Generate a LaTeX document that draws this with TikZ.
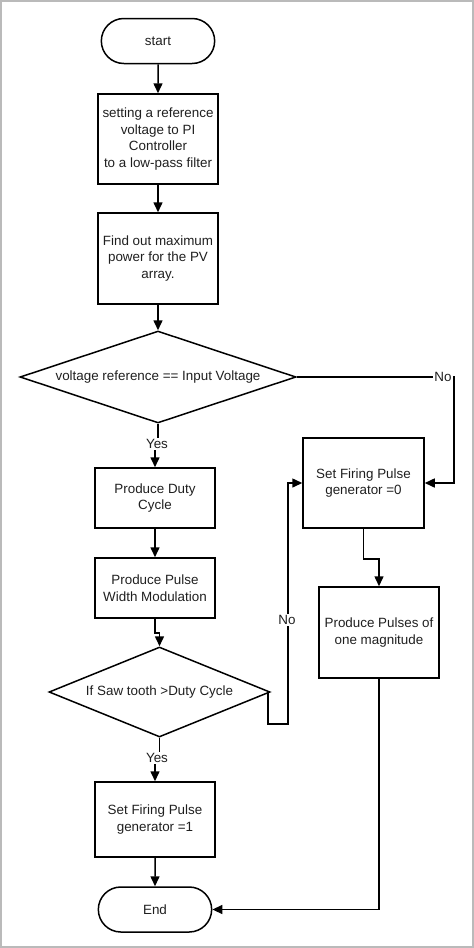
\documentclass[tikz,border=0pt]{standalone}
\usepackage{fontspec}
\setmainfont{Liberation Sans}
\usetikzlibrary{shapes.geometric,shapes.misc,arrows.meta,calc}
\begin{document}
\begin{tikzpicture}[x=1pt,y=-1pt,
  every node/.style={font=\fontsize{13.4}{16.5}\selectfont, text=black!88},
  proc/.style={draw, line width=1.5pt, rectangle, minimum width=120pt, align=center, inner sep=2pt},
  term/.style={draw, line width=1.5pt, rounded rectangle, minimum width=120pt, minimum height=45pt},
  dec/.style={draw, line width=1.5pt, diamond, inner sep=0pt},
  lbl/.style={fill=white, inner sep=1pt},
  arr/.style={line width=1.5pt, -{Triangle[length=10pt,width=9pt]}},
  ln/.style={line width=1.5pt}]
\useasboundingbox (0,0) rectangle (474,948);
\draw[black!27, line width=2pt] (1,1) rectangle (473,947);

\node[term] (start) at (158,41) {start};
\node[proc, minimum height=90pt] (b1) at (158,139) {setting a reference\\voltage to PI\\Controller\\to a low-pass filter};
\node[proc, minimum height=91pt] (b2) at (158,258.5) {Find out maximum\\power for the PV\\array.};
\node[dec, aspect=3, minimum width=276pt, minimum height=92pt] (d1) at (158,377) {voltage reference == Input Voltage};
\node[proc, minimum height=60pt] (b3) at (155,498) {Produce Duty\\Cycle};
\node[proc, minimum height=60pt] (b4) at (155,588) {Produce Pulse\\Width Modulation};
\node[dec, aspect=2.46, minimum width=221pt, minimum height=90pt] (d2) at (159.5,692) {If Saw tooth >Duty Cycle};
\node[proc, minimum height=75pt] (b5) at (155,819.5) {Set Firing Pulse\\generator =1};
\node[term] (end) at (155,909.5) {End};
\node[proc, minimum width=121pt, minimum height=90pt] (b6) at (363.5,483) {Set Firing Pulse\\generator =0};
\node[proc, minimum height=91pt] (b7) at (379,632.5) {Produce Pulses of\\one magnitude};

\coordinate (c1) at (454,377);

\draw[arr] (start) -- (b1);
\draw[arr] (b1) -- (b2);
\draw[arr] (b2.south) -- (d1.north);
\draw[arr] (d1.south) -- ++(0,21) -| (b3.north);
\node[lbl] (yes1) at (157,444) {Yes};
\draw[arr] (b3) -- (b4);
\draw[arr] (b4.south) -- ++(0,14) -| (d2.north);
\draw[arr] (d2.south) -- ++(0,21) -| (b5.north);
\node[lbl] (yes2) at (157,758) {Yes};
\draw[arr] (b5) -- (end);
\draw[arr] (d1.east) -- (c1) |- (b6.east);
\node[lbl] (no1) at (443,377) {No};
\draw[arr] ([xshift=-3pt]d2.east) -- ++(0,32) -- ++(20,0) |- (b6.west);
\node[lbl] (no2) at (287,620) {No};
\draw[arr] (b6.south) -- ++(0,30) -| (b7.north);
\draw[arr] (b7.south) |- (end.east);
\end{tikzpicture}
\end{document}
